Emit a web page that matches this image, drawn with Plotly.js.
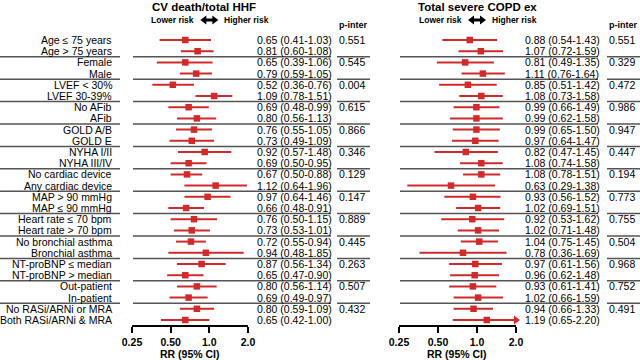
<!DOCTYPE html>
<html>
<head>
<meta charset="utf-8">
<script src="https://cdn.plot.ly/plotly-3.0.1.min.js"></script>
<style>html,body{margin:0;padding:0;background:#fff;}#chart{width:640px;height:360px;}</style>
</head>
<body>
<div id="chart"></div>
<script>
const labels = [
  "Age ≤ 75 years", "Age > 75 years",
  "Female", "Male",
  "LVEF < 30%", "LVEF 30-39%",
  "No AFib", "AFib",
  "GOLD A/B", "GOLD E",
  "NYHA I/II", "NYHA III/IV",
  "No cardiac device", "Any cardiac device",
  "MAP > 90 mmHg", "MAP ≤ 90 mmHg",
  "Heart rate ≤ 70 bpm", "Heart rate > 70 bpm",
  "No bronchial asthma", "Bronchial asthma",
  "NT-proBNP ≤ median", "NT-proBNP > median",
  "Out-patient", "In-patient",
  "No RASi/ARNi or MRA", "Both RASi/ARNi & MRA"
];
const cvEst = [0.65,0.81,0.65,0.79,0.52,1.09,0.69,0.80,0.76,0.73,0.92,0.69,0.67,1.12,0.97,0.66,0.76,0.73,0.72,0.94,0.87,0.65,0.80,0.69,0.80,0.65];
const cvLo  = [0.41,0.60,0.39,0.59,0.36,0.78,0.48,0.56,0.55,0.49,0.57,0.50,0.50,0.64,0.64,0.48,0.50,0.53,0.55,0.48,0.56,0.47,0.56,0.49,0.59,0.42];
const cvHi  = [1.03,1.08,1.06,1.05,0.76,1.51,0.99,1.13,1.05,1.09,1.48,0.95,0.88,1.96,1.46,0.91,1.15,1.01,0.94,1.85,1.34,0.90,1.14,0.97,1.09,1.00];
const cvP   = ["0.551","0.545","0.004","0.615","0.866","0.346","0.129","0.147","0.889","0.445","0.263","0.507","0.432"];

const copdEst = [0.88,1.07,0.81,1.11,0.85,1.08,0.99,0.99,0.99,0.97,0.82,1.08,1.08,0.63,0.93,1.02,0.92,1.02,1.04,0.78,0.97,0.96,0.93,1.02,0.94,1.19];
const copdLo  = [0.54,0.72,0.49,0.76,0.51,0.73,0.66,0.62,0.65,0.64,0.47,0.74,0.78,0.29,0.56,0.69,0.53,0.71,0.75,0.36,0.61,0.62,0.61,0.66,0.66,0.65];
const copdHi  = [1.43,1.59,1.35,1.64,1.42,1.58,1.49,1.58,1.50,1.47,1.45,1.58,1.51,1.38,1.52,1.51,1.62,1.48,1.45,1.69,1.56,1.48,1.41,1.59,1.33,2.20];
const copdP   = ["0.551","0.329","0.472","0.986","0.947","0.447","0.194","0.773","0.755","0.504","0.968","0.752","0.491"];

const tickVals = [0.25, 0.5, 1, 2];
const tickText = ["0.25", "0.50", "1.0", "2.0"];
const panelTitles = ["CV death/total HHF", "Total severe COPD ex"];

// ---- layout helpers ----
const W = 640, H = 360;
const px = v => v / W;
const py = v => 1 - v / H;
const RED = "#d02a2a";
const FONT = "Liberation Sans, Arial, Helvetica, sans-serif";
const XMIN = 0.25, XMAX = 2.0;
const rowTop = 40, rowStep = 11.2;
const yRange = [(H - rowTop) / rowStep, -rowTop / rowStep];
const axisY = 326;

const idx = labels.map((_, i) => i);

function panelTraces(est, lo, hi, xa, ya) {
  const hiClip = hi.map(h => Math.min(h, XMAX));
  const traces = [{
    type: "scatter", mode: "markers", xaxis: xa, yaxis: ya,
    x: est, y: idx,
    marker: {symbol: "square", size: 6.5, color: RED},
    error_x: {type: "data", symmetric: false,
      array: hiClip.map((h, i) => h - est[i]),
      arrayminus: lo.map((l, i) => est[i] - l),
      color: RED, thickness: 2, width: 0},
    hoverinfo: "skip", showlegend: false
  }];
  const ax = [], ay = [];
  hi.forEach((h, i) => { if (h > XMAX) { ax.push(XMAX); ay.push(i); } });
  if (ax.length) traces.push({
    type: "scatter", mode: "markers", xaxis: xa, yaxis: ya, x: ax, y: ay,
    marker: {symbol: "triangle-right", size: 8, color: RED},
    cliponaxis: false, hoverinfo: "skip", showlegend: false
  });
  return traces;
}

const data = [
  ...panelTraces(cvEst, cvLo, cvHi, "x", "y"),
  ...panelTraces(copdEst, copdLo, copdHi, "x2", "y")
];

function xaxisCfg(dom) {
  return {
    type: "log", domain: dom, range: [Math.log10(XMIN), Math.log10(XMAX)],
    anchor: "free", position: 1 - axisY / H,
    showline: true, linecolor: "#000", linewidth: 2,
    ticks: "outside", ticklen: 6, tickwidth: 2, tickcolor: "#000",
    tickvals: tickVals, ticktext: tickText.map(t => "<b>" + t + "</b>"),
    tickfont: {family: FONT, size: 10.5, color: "#000"},
    showgrid: false, zeroline: false, fixedrange: true
  };
}

const annotations = [];
const shapes = [];
const fmt = v => v.toFixed(2);

// pixel x of value 1.0 inside an axis domain (for the double-arrow glyph)
function oneXpx(d0, d1) {
  return d0 + (d1 - d0) * (0 - Math.log10(XMIN)) / (Math.log10(XMAX) - Math.log10(XMIN));
}

function arrowPath(cx, cy) {
  const P = [[-9,0],[-3,-4.5],[-3,-1.5],[3,-1.5],[3,-4.5],[9,0],[3,4.5],[3,1.5],[-3,1.5],[-3,4.5]];
  return P.map((p, i) => (i ? "L " : "M ") + px(cx + p[0]).toFixed(5) + " " + py(cy + p[1]).toFixed(5)).join(" ") + " Z";
}

function addPanel(title, est, lo, hi, pvals, xref, dom, ciX, pX, titleX, axisTitleX, sepSegs) {
  const cx = oneXpx(dom[0], dom[1]);
  annotations.push({xref: "paper", yref: "paper", x: px(titleX), y: py(7),
    text: "<b>" + title + "</b>",
    showarrow: false, xanchor: "center", yanchor: "middle",
    font: {family: FONT, size: 11.5, color: "#000"}});
  annotations.push({xref: "paper", yref: "paper", x: px(cx - 13), y: py(20),
    text: "<b>Lower risk</b>", showarrow: false, xanchor: "right", yanchor: "middle",
    font: {family: FONT, size: 8.5, color: "#000"}});
  annotations.push({xref: "paper", yref: "paper", x: px(cx + 13), y: py(20),
    text: "<b>Higher risk</b>", showarrow: false, xanchor: "left", yanchor: "middle",
    font: {family: FONT, size: 8.5, color: "#000"}});
  shapes.push({type: "path", xref: "paper", yref: "paper", path: arrowPath(cx, 20),
    fillcolor: "#000", line: {width: 0}});
  annotations.push({xref: "paper", yref: "paper", x: px(pX), y: py(25),
    text: "<b>p-inter</b>", showarrow: false, xanchor: "left", yanchor: "middle",
    font: {family: FONT, size: 9, color: "#000"}});
  annotations.push({xref: "paper", yref: "paper", x: px(axisTitleX), y: py(354),
    text: "<b>RR (95% CI)</b>", showarrow: false, xanchor: "center", yanchor: "middle",
    font: {family: FONT, size: 10.5, color: "#000"}});
  shapes.push({type: "line", xref: xref, yref: "paper", x0: 0, x1: 0, y0: py(axisY), y1: py(32),
    line: {color: "#000", width: 2}});
  est.forEach((e, i) => {
    annotations.push({xref: "paper", yref: "y", x: px(ciX), y: i,
      text: fmt(e) + " (" + fmt(lo[i]) + "-" + fmt(hi[i]) + ")",
      showarrow: false, xanchor: "left", yanchor: "middle",
      font: {family: FONT, size: 10.5, color: "#000"}});
  });
  pvals.forEach((p, k) => {
    annotations.push({xref: "paper", yref: "y", x: px(pX), y: 2 * k,
      text: p, showarrow: false, xanchor: "left", yanchor: "middle",
      font: {family: FONT, size: 10.5, color: "#000"}});
  });
  for (let k = 0; k < pvals.length - 1; k++) {
    sepSegs.forEach(s => shapes.push({type: "line", xref: "paper", yref: "y",
      x0: px(s[0]), x1: px(s[1]), y0: 2 * k + 1.5, y1: 2 * k + 1.5,
      line: {color: "#555", width: 1.5}}));
  }
}

labels.forEach((l, i) => annotations.push({xref: "paper", yref: "y", x: px(114), y: i,
  text: l, showarrow: false, xanchor: "right", yanchor: "middle",
  font: {family: FONT, size: 10.5, color: "#000"}}));

const domL = [132, 248], domR = [399, 516];
addPanel(panelTitles[0], cvEst, cvLo, cvHi, cvP, "x", domL, 255, 337, 204, 190, [[0, 120], [133, 331], [337, 370]]);
addPanel(panelTitles[1], copdEst, copdLo, copdHi, copdP, "x2", domR, 523, 607, 477, 457, [[400, 598], [607, 640]]);

const layout = {
  width: W, height: H,
  margin: {l: 0, r: 0, t: 0, b: 0, pad: 0},
  paper_bgcolor: "#fff", plot_bgcolor: "rgba(0,0,0,0)",
  font: {family: FONT, color: "#000"},
  showlegend: false,
  xaxis: xaxisCfg([px(domL[0]), px(domL[1])]),
  xaxis2: xaxisCfg([px(domR[0]), px(domR[1])]),
  yaxis: {domain: [0, 1], range: yRange, visible: false, fixedrange: true},
  annotations: annotations,
  shapes: shapes
};

Plotly.newPlot("chart", data, layout, {displayModeBar: false, staticPlot: true});
</script>
</body>
</html>
